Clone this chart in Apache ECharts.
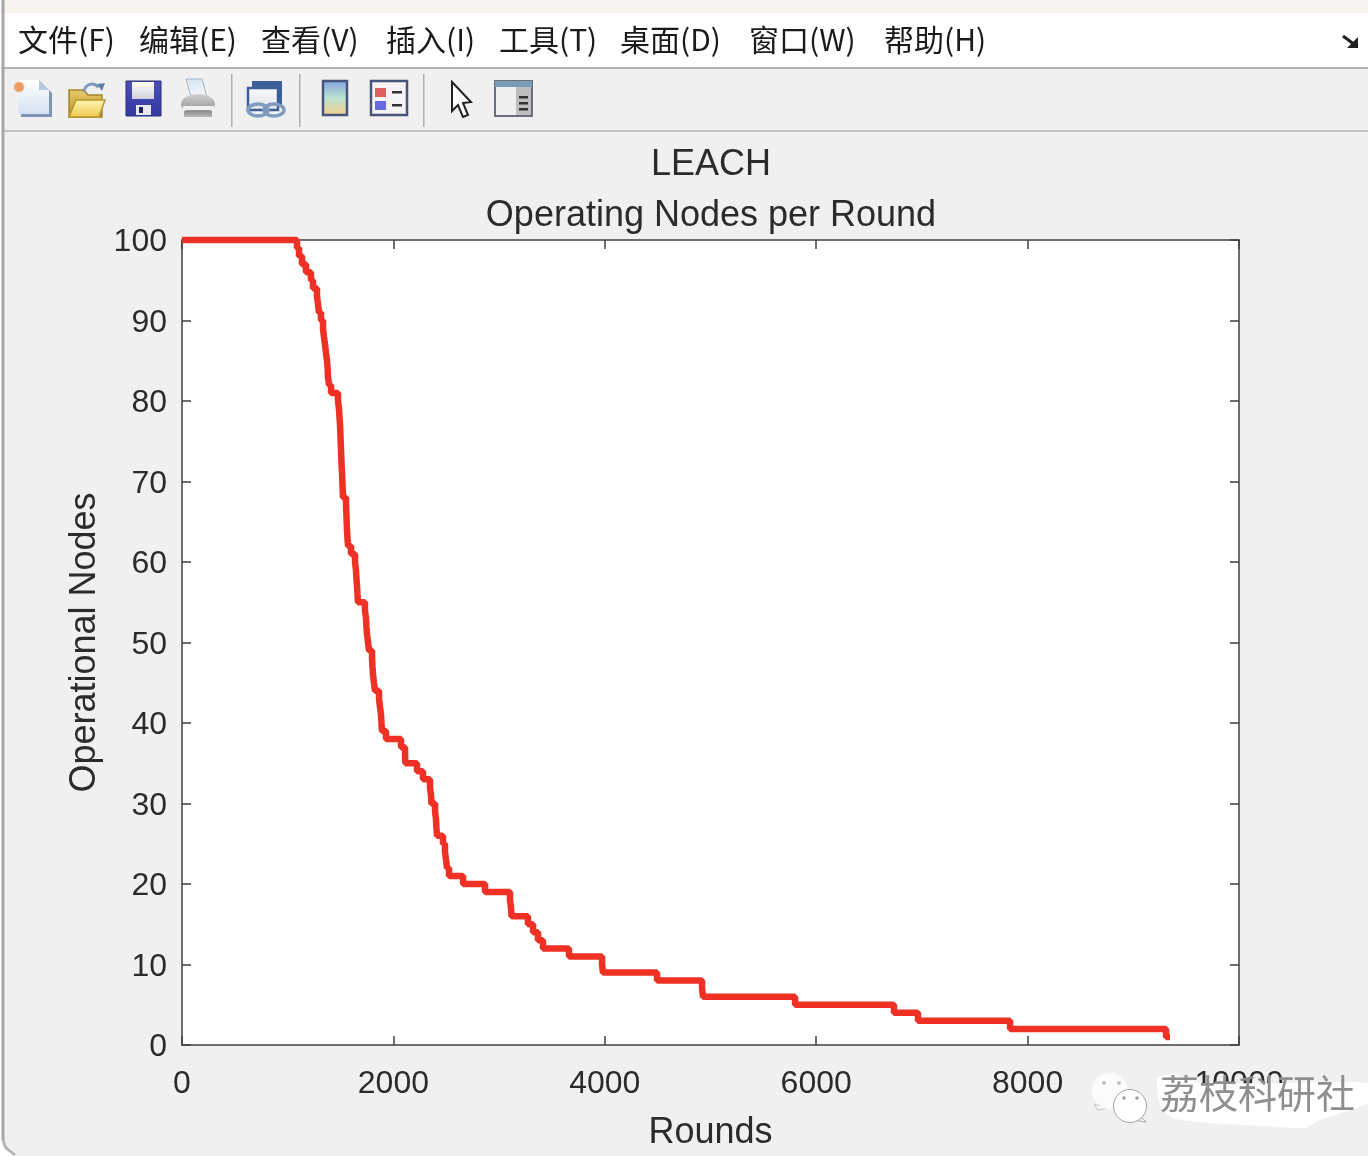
<!DOCTYPE html>
<html>
<head>
    <meta charset="utf-8">
    <title>LEACH</title>
    <script src="https://cdn.jsdelivr.net/npm/echarts@6/dist/echarts.min.js"></script>
    <style>
        html, body { margin: 0; padding: 0; background: #f0f0f0; }
        #main { width: 1368px; height: 1156px; }
    </style>
</head>
<body>
<div id="main"></div>
<script type="text/javascript">
    // rounds at which the count of live nodes falls to the matching value in nodes
    var rounds = [0, 1088, 1107, 1135, 1173, 1220, 1239, 1277, 1287, 1296,
        1315, 1334, 1343, 1353, 1362, 1372, 1378, 1381, 1391, 1410,
        1476, 1485, 1490, 1495, 1498, 1501, 1504, 1507, 1510, 1514,
        1517, 1520, 1523, 1552, 1555, 1558, 1561, 1565, 1571, 1599,
        1637, 1646, 1650, 1656, 1660, 1665, 1731, 1741, 1745, 1750,
        1760, 1769, 1798, 1802, 1807, 1816, 1826, 1864, 1873, 1883,
        1887, 1892, 1930, 2072, 2110, 2114, 2223, 2280, 2346, 2356,
        2360, 2394, 2403, 2407, 2413, 2469, 2488, 2498, 2507, 2526,
        2659, 2867, 3103, 3113, 3118, 3273, 3321, 3368, 3415, 3661,
        3974, 3983, 4494, 4920, 4929, 5800, 6736, 6963, 7834, 9310, 9347];
    var nodes = [100, 99, 98, 97, 96, 95, 94, 93, 92, 91,
        90, 89, 88, 87, 86, 85, 84, 83, 82, 81,
        80, 79, 78, 77, 76, 75, 74, 73, 72, 71,
        70, 69, 68, 67, 66, 65, 64, 63, 62, 61,
        60, 59, 58, 57, 56, 55, 54, 53, 52, 51,
        50, 49, 48, 47, 46, 45, 44, 43, 42, 41,
        40, 39, 38, 37, 36, 35, 34, 33, 32, 31,
        30, 29, 28, 27, 26, 25, 24, 23, 22, 21,
        20, 19, 18, 17, 16, 15, 14, 13, 12, 11,
        10, 9, 8, 7, 6, 5, 4, 3, 2, 1, 1];
    var menuLabels = ['文件(F)', '编辑(E)', '查看(V)', '插入(I)', '工具(T)', '桌面(D)', '窗口(W)', '帮助(H)'];
    var menuX = [18, 139, 261, 386, 499, 620, 749, 884];
    var separatorX = [231, 299, 423];

    var points = rounds.map(function (r, i) { return [r, nodes[i]]; });
    var font = '"Liberation Sans", Arial, sans-serif';
    var textColor = '#2b2b2b';
    var axisColor = '#404040';

    function rect(x, y, w, h, fill, stroke, lw) {
        return {type: 'rect', shape: {x: x, y: y, width: w, height: h}, z: 50,
            style: {fill: fill, stroke: stroke || null, lineWidth: lw || 0}};
    }
    function poly(pts, fill, stroke, lw) {
        return {type: 'polygon', shape: {points: pts}, z: 50,
            style: {fill: fill, stroke: stroke || null, lineWidth: lw || 0}};
    }
    function circle(cx, cy, r, fill, stroke, z) {
        return {type: 'circle', shape: {cx: cx, cy: cy, r: r}, z: z || 50,
            style: {fill: fill, stroke: stroke || null, lineWidth: stroke ? 1 : 0}};
    }
    function vGrad(a, b) {
        return new echarts.graphic.LinearGradient(0, 0, 0, 1, [{offset: 0, color: a}, {offset: 1, color: b}]);
    }

    // window chrome
    var chrome = [
        rect(0, 0, 1368, 13, '#f6f2ee'),
        rect(0, 13, 1368, 55, '#ffffff'),
        rect(0, 67, 1368, 2, '#b4b4b4'),
        rect(0, 130, 1368, 2, '#c4c4c4'),
        rect(0, 0, 1.5, 1156, '#ffffff'),
        rect(1.5, 0, 3, 1140, '#a8a8a8'),
        poly([[0, 1140], [3, 1148], [14, 1156], [0, 1156]], '#ffffff'),
        {type: 'polyline', shape: {points: [[3, 1140], [6, 1148], [15, 1155]]}, z: 50,
            style: {fill: null, stroke: '#b0b0b0', lineWidth: 2.5}}
    ];
    menuLabels.forEach(function (label, i) {
        chrome.push({type: 'text', z: 50, style: {
            text: label, x: menuX[i], y: 40, fill: '#1a1a1a', textVerticalAlign: 'middle',
            fontSize: 30, fontFamily: '"Noto Sans CJK SC", "Liberation Sans", sans-serif'
        }});
    });
    separatorX.forEach(function (x) { chrome.push(rect(x, 74, 1.5, 53, '#b0b0b0')); });

    // little arrow at the end of the menu bar
    chrome.push({type: 'polyline', shape: {points: [[1343, 36], [1355, 45]]}, z: 50,
        style: {stroke: '#222', lineWidth: 3, fill: null}});
    chrome.push(poly([[1358, 37], [1358, 48], [1347, 48]], '#222'));

    // toolbar icons
    chrome.push(
        // new
        poly([[21, 82], [41, 82], [52, 93], [52, 117], [21, 117]], '#8094b8'),
        poly([[18, 80], [39, 80], [49, 90], [49, 114], [18, 114]], vGrad('#ffffff', '#d4e2f4')),
        poly([[39, 80], [49, 90], [39, 90]], '#b8c8dc'),
        circle(19, 87, 5, '#ee9a62', '#e8c8a0'),
        // open
        poly([[69, 90], [84, 90], [88, 95], [102, 95], [102, 117], [69, 117]], vGrad('#e8cc6a', '#b78e2a'), '#a58428', 1.5),
        poly([[69, 117], [76, 100], [105, 100], [99, 117]], vGrad('#fff6b4', '#ecc850'), '#b8962e', 1.5),
        {type: 'arc', shape: {cx: 92, cy: 92, r: 8, startAngle: Math.PI, endAngle: Math.PI * 1.8}, z: 50,
            style: {stroke: '#7f9cc0', lineWidth: 3, fill: null}},
        poly([[97, 84], [105, 83], [102, 91]], '#5f80aa'),
        // save
        rect(126, 81, 35, 35, vGrad('#4d50b8', '#3236a0'), '#2d2f7c', 1),
        rect(132, 82, 22, 17, vGrad('#ffffff', '#d0d0dc')),
        rect(136, 105, 15, 10, '#e8e8ee'),
        rect(139, 107, 4, 6, '#1e2060'),
        // print
        poly([[186, 79], [202, 79], [207, 97], [191, 97]], vGrad('#d6e6f4', '#f4f6f8'), '#a8b4c0', 1),
        {type: 'ellipse', shape: {cx: 198, cy: 104, rx: 17, ry: 10}, z: 50, style: {fill: vGrad('#d0d0d0', '#8a8a8a')}},
        rect(183, 106, 31, 4, '#f0f0f0'),
        rect(184, 111, 28, 6, vGrad('#8c8c8c', '#b8b8b8')),
        // link plot
        rect(252, 81, 30, 24, '#3c5f98'),
        rect(248, 88, 30, 22, vGrad('#f8f8fa', '#dfe4ec'), '#3c5f98', 2.5),
        {type: 'ellipse', shape: {cx: 258, cy: 110, rx: 10, ry: 6}, z: 50, style: {fill: null, stroke: '#7f9cc0', lineWidth: 3.5}},
        {type: 'ellipse', shape: {cx: 274, cy: 110, rx: 10, ry: 6}, z: 50, style: {fill: null, stroke: '#7f9cc0', lineWidth: 3.5}},
        // colorbar
        {type: 'rect', shape: {x: 323, y: 81, width: 24, height: 34}, z: 50, style: {
            stroke: '#47557d', lineWidth: 2.5,
            fill: new echarts.graphic.LinearGradient(0, 0, 0, 1, [
                {offset: 0, color: '#7f9be0'}, {offset: 0.5, color: '#bce4d0'}, {offset: 1, color: '#f4cc8c'}])
        }},
        // legend
        rect(371, 81, 36, 34, '#f4f4f4', '#47557d', 2.5),
        rect(375, 88, 11, 9, '#e06060'),
        rect(375, 101, 11, 9, '#6868e0'),
        rect(392, 91, 10, 2.5, '#333'),
        rect(392, 104, 10, 2.5, '#333'),
        // pointer
        poly([[452, 82], [471, 102], [463, 103], [468, 115], [463, 117], [458, 105], [452, 111]], '#ffffff', '#222', 2),
        // plot browser
        rect(495, 81, 37, 35, '#f0f0f0', '#6a7078', 2),
        rect(495, 81, 37, 6, '#7a9cb8'),
        rect(516, 87, 15, 28, '#bdbdbd'),
        rect(519, 96, 9, 2.5, '#333'),
        rect(519, 102, 9, 2.5, '#333'),
        rect(519, 108, 9, 2.5, '#333')
    );

    // watermark, sits over the "10000" label
    chrome.push(
        {type: 'polygon', shape: {points: [[1157, 1078], [1172, 1074], [1200, 1083], [1280, 1083], [1368, 1083], [1368, 1103],
            [1320, 1120], [1305, 1128], [1260, 1126], [1210, 1123], [1172, 1118], [1160, 1105]], smooth: 0.15},
            z: 60, style: {fill: '#ffffff'}},
        poly([[1094, 1104], [1098, 1110], [1108, 1108]], '#fbfbfb', '#c4c4c4', 1),
        circle(1110, 1091, 18, '#fbfbfb', null, 60),
        poly([[1142, 1118], [1146, 1122], [1134, 1120]], '#ffffff', '#a8a8a8', 1),
        circle(1130, 1106, 16.5, '#ffffff', '#a4a4a4', 61),
        circle(1104, 1083, 2, '#c0c0c0', null, 62),
        circle(1119, 1083, 2, '#c0c0c0', null, 62),
        circle(1124, 1098, 1.8, '#a0a0a0', null, 62),
        circle(1137, 1098, 1.8, '#a0a0a0', null, 62),
        {type: 'text', z: 62, style: {
            text: '荔枝科研社', x: 1160, y: 1093, fill: '#8f8f8f', textVerticalAlign: 'middle',
            fontSize: 39, fontFamily: '"Noto Sans CJK SC", sans-serif'
        }}
    );

    var myChart = echarts.init(document.getElementById('main'), null, {renderer: 'canvas'});
    myChart.setOption({
        backgroundColor: '#f0f0f0',
        animation: false,
        title: [
            {text: 'LEACH', left: 711, top: 147, padding: 0, textAlign: 'center',
                textStyle: {fontFamily: font, fontSize: 36, fontWeight: 'normal', color: textColor}},
            {text: 'Operating Nodes per Round', left: 711, top: 198, padding: 0, textAlign: 'center',
                textStyle: {fontFamily: font, fontSize: 36, fontWeight: 'normal', color: textColor}}
        ],
        grid: {left: 182, top: 240, width: 1057, height: 805, backgroundColor: '#ffffff', show: true, borderWidth: 0},
        xAxis: [
            {
                type: 'value', min: 0, max: 10000, interval: 2000,
                name: 'Rounds', nameLocation: 'middle', nameGap: 70,
                nameTextStyle: {fontFamily: font, fontSize: 36, color: textColor},
                axisLine: {show: true, lineStyle: {color: axisColor, width: 1.5}},
                axisTick: {show: true, inside: true, length: 9, lineStyle: {color: axisColor, width: 1.5}},
                axisLabel: {fontFamily: font, fontSize: 32, color: textColor, margin: 23,
                    formatter: function (v) { return String(v); }},
                splitLine: {show: false}
            },
            {
                type: 'value', min: 0, max: 10000, interval: 2000, position: 'top',
                axisLine: {show: true, onZero: false, lineStyle: {color: axisColor, width: 1.5}},
                axisTick: {show: true, inside: true, length: 9, lineStyle: {color: axisColor, width: 1.5}},
                axisLabel: {show: false},
                splitLine: {show: false}
            }
        ],
        yAxis: [
            {
                type: 'value', min: 0, max: 100, interval: 10,
                name: 'Operational Nodes', nameLocation: 'middle', nameGap: 79, nameRotate: 90,
                nameTextStyle: {fontFamily: font, fontSize: 36, color: textColor},
                axisLine: {show: true, lineStyle: {color: axisColor, width: 1.5}},
                axisTick: {show: true, inside: true, length: 9, lineStyle: {color: axisColor, width: 1.5}},
                axisLabel: {
                    margin: 15,
                    formatter: '{n|{value}}',
                    rich: {n: {fontFamily: font, fontSize: 32, color: textColor, padding: [5, 0, 0, 0]}}
                },
                splitLine: {show: false}
            },
            {
                type: 'value', min: 0, max: 100, interval: 10, position: 'right',
                axisLine: {show: true, onZero: false, lineStyle: {color: axisColor, width: 1.5}},
                axisTick: {show: true, inside: true, length: 9, lineStyle: {color: axisColor, width: 1.5}},
                axisLabel: {show: false},
                splitLine: {show: false}
            }
        ],
        series: [{
            type: 'line',
            step: 'end',
            data: points,
            showSymbol: false,
            clip: false,
            lineStyle: {color: '#ee3124', width: 6.5},
            z: 5
        }],
        graphic: {elements: chrome}
    });
</script>
</body>
</html>
